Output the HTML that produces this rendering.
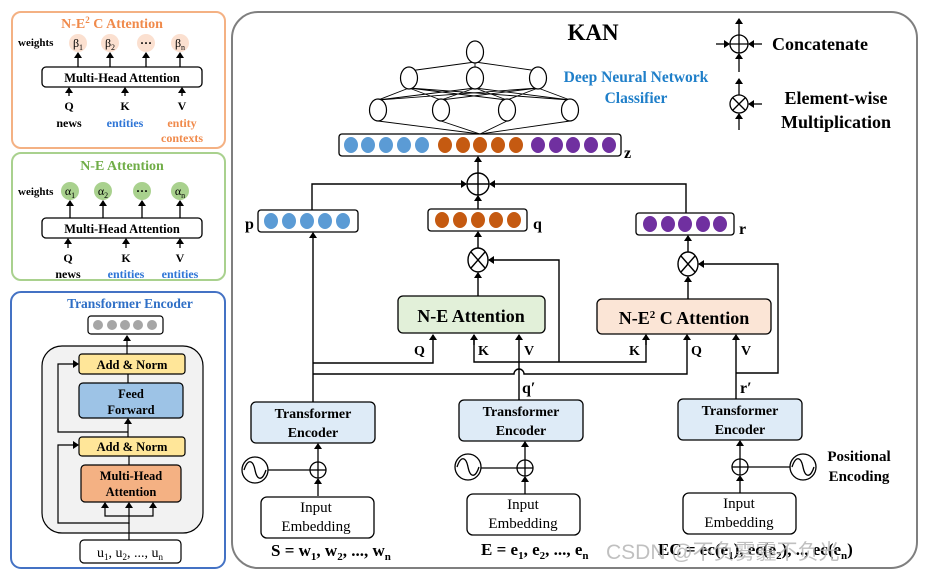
<!DOCTYPE html>
<html><head><meta charset="utf-8"><style>
html,body{margin:0;padding:0;background:#fff;}
svg{display:block;}
text{font-family:"Liberation Serif","Noto Serif CJK SC",serif;}
</style></head><body>
<svg width="925" height="575" viewBox="0 0 925 575" xmlns="http://www.w3.org/2000/svg">
<defs>
<marker id="a" markerWidth="6" markerHeight="8" refX="5" refY="4" orient="auto" markerUnits="userSpaceOnUse"><path d="M0,0 L6,4 L0,8 z" fill="#000"/></marker>
</defs>
<g stroke="#000" stroke-width="1.3" fill="none">
<rect x="12" y="12" width="213" height="136" rx="9" stroke="#f4b183" stroke-width="2"/>
<rect x="12" y="153" width="213" height="127" rx="9" stroke="#a9d18e" stroke-width="2"/>
<rect x="11" y="292" width="214" height="276" rx="10" stroke="#4472c4" stroke-width="2"/>
<rect x="232" y="12" width="685" height="556" rx="26" stroke="#7f7f7f" stroke-width="2"/>
</g>

<text x="112" y="28" font-size="14" font-weight="bold" fill="#f08a4b" text-anchor="middle">N-E<tspan font-size="9" dy="-5">2</tspan><tspan dy="5"> C Attention</tspan></text>
<text x="18" y="46" font-size="11" font-weight="bold">weights</text>
<g fill="#fbe0d0"><circle cx="78" cy="43" r="9"/><circle cx="110" cy="43" r="9"/><circle cx="146" cy="43" r="9"/><circle cx="180" cy="43" r="9"/></g>
<g font-size="12" text-anchor="middle"><text x="78" y="47">β<tspan font-size="8" dy="3">1</tspan></text><text x="110" y="47">β<tspan font-size="8" dy="3">2</tspan></text><text x="146" y="47" font-weight="bold">···</text><text x="180" y="47">β<tspan font-size="8" dy="3">n</tspan></text></g>
<rect x="42" y="67" width="160" height="20" rx="4" fill="#fff" stroke="#000" stroke-width="1.3"/>
<text x="122" y="82" font-size="12.5" font-weight="bold" text-anchor="middle">Multi-Head Attention</text>
<g stroke="#000" stroke-width="1.3" marker-end="url(#a)"><line x1="78" y1="67" x2="78" y2="53"/><line x1="110" y1="67" x2="110" y2="53"/><line x1="146" y1="67" x2="146" y2="53"/><line x1="180" y1="67" x2="180" y2="53"/>
<line x1="69" y1="96" x2="69" y2="88"/><line x1="125" y1="96" x2="125" y2="88"/><line x1="182" y1="96" x2="182" y2="88"/></g>
<g font-size="12" font-weight="bold" text-anchor="middle"><text x="69" y="110">Q</text><text x="125" y="110">K</text><text x="182" y="110">V</text>
<text x="69" y="127">news</text><text x="125" y="127" fill="#2e75d6">entities</text><text x="182" y="127" fill="#f08a4b">entity</text><text x="182" y="142" fill="#f08a4b">contexts</text></g>

<text x="122" y="170" font-size="14" font-weight="bold" fill="#70ad47" text-anchor="middle">N-E Attention</text>
<text x="18" y="195" font-size="11" font-weight="bold">weights</text>
<g fill="#a9d18e"><circle cx="70" cy="191" r="9"/><circle cx="103" cy="191" r="9"/><circle cx="142" cy="191" r="9"/><circle cx="180" cy="191" r="9"/></g>
<g font-size="12" text-anchor="middle"><text x="70" y="195">α<tspan font-size="8" dy="3">1</tspan></text><text x="103" y="195">α<tspan font-size="8" dy="3">2</tspan></text><text x="142" y="195" font-weight="bold">···</text><text x="180" y="195">α<tspan font-size="8" dy="3">n</tspan></text></g>
<rect x="42" y="218" width="160" height="20" rx="4" fill="#fff" stroke="#000" stroke-width="1.3"/>
<text x="122" y="233" font-size="12.5" font-weight="bold" text-anchor="middle">Multi-Head Attention</text>
<g stroke="#000" stroke-width="1.3" marker-end="url(#a)"><line x1="70" y1="218" x2="70" y2="201"/><line x1="103" y1="218" x2="103" y2="201"/><line x1="142" y1="218" x2="142" y2="201"/><line x1="180" y1="218" x2="180" y2="201"/>
<line x1="68" y1="248" x2="68" y2="239"/><line x1="126" y1="248" x2="126" y2="239"/><line x1="180" y1="248" x2="180" y2="239"/></g>
<g font-size="12" font-weight="bold" text-anchor="middle"><text x="68" y="262">Q</text><text x="126" y="262">K</text><text x="180" y="262">V</text>
<text x="68" y="278">news</text><text x="126" y="278" fill="#2e75d6">entities</text><text x="180" y="278" fill="#2e75d6">entities</text></g>

<text x="130" y="308" font-size="13.5" font-weight="bold" fill="#2f6fc6" text-anchor="middle">Transformer Encoder</text>
<rect x="88" y="316" width="75" height="18" rx="3" fill="#fff" stroke="#000" stroke-width="1.2"/>
<g fill="#a6a6a6"><circle cx="98" cy="325" r="5"/><circle cx="112" cy="325" r="5"/><circle cx="125" cy="325" r="5"/><circle cx="138" cy="325" r="5"/><circle cx="152" cy="325" r="5"/></g>
<rect x="42" y="346" width="161" height="187" rx="20" fill="#f2f2f2" stroke="#000" stroke-width="1.2"/>
<g stroke="#000" stroke-width="1.2" fill="none">
<line x1="127" y1="354" x2="127" y2="336" marker-end="url(#a)"/>
<line x1="128" y1="374" x2="128" y2="383"/>
<line x1="128" y1="437" x2="128" y2="419" marker-end="url(#a)"/>
<polyline points="128,432 58,432 58,364 78,364" marker-end="url(#a)"/>
<line x1="129" y1="456" x2="129" y2="465"/>
<polyline points="129,540 129,523 58,523 58,445 78,445" marker-end="url(#a)"/>
<line x1="129" y1="524" x2="129" y2="503" marker-end="url(#a)"/>
<polyline points="105,503 105,516 153,516 153,503"/>
<line x1="105" y1="508" x2="105" y2="503" marker-end="url(#a)"/>
<line x1="153" y1="508" x2="153" y2="503" marker-end="url(#a)"/>
</g>
<rect x="79" y="354" width="106" height="20" rx="3" fill="#ffe699" stroke="#000" stroke-width="1.2"/>
<text x="132" y="369" font-size="12.5" font-weight="bold" text-anchor="middle">Add &amp; Norm</text>
<rect x="79" y="383" width="104" height="35" rx="4" fill="#9dc3e6" stroke="#000" stroke-width="1.2"/>
<text x="131" y="398" font-size="12.5" font-weight="bold" text-anchor="middle">Feed</text>
<text x="131" y="414" font-size="12.5" font-weight="bold" text-anchor="middle">Forward</text>
<rect x="79" y="437" width="106" height="19" rx="3" fill="#ffe699" stroke="#000" stroke-width="1.2"/>
<text x="132" y="451" font-size="12.5" font-weight="bold" text-anchor="middle">Add &amp; Norm</text>
<rect x="81" y="465" width="100" height="37" rx="4" fill="#f4b183" stroke="#000" stroke-width="1.2"/>
<text x="131" y="480" font-size="12.5" font-weight="bold" text-anchor="middle">Multi-Head</text>
<text x="131" y="496" font-size="12.5" font-weight="bold" text-anchor="middle">Attention</text>
<rect x="80" y="540" width="101" height="23" rx="4" fill="#fff" stroke="#000" stroke-width="1.2"/>
<text x="130" y="557" font-size="14" text-anchor="middle">u<tspan font-size="9" dy="3">1</tspan><tspan dy="-3">, u</tspan><tspan font-size="9" dy="3">2</tspan><tspan dy="-3">, ..., u</tspan><tspan font-size="9" dy="3">n</tspan></text>

<text x="593" y="40" font-size="23" font-weight="bold" text-anchor="middle">KAN</text>
<g stroke="#000" stroke-width="1.3" fill="none">
<circle cx="739" cy="44" r="9"/><line x1="730" y1="44" x2="748" y2="44"/><line x1="739" y1="35" x2="739" y2="53"/>
<line x1="739" y1="35" x2="739" y2="19" marker-end="url(#a)"/>
<line x1="739" y1="72" x2="739" y2="54" marker-end="url(#a)"/>
<line x1="716" y1="44" x2="729" y2="44" marker-end="url(#a)"/>
<line x1="762" y1="44" x2="749" y2="44" marker-end="url(#a)"/>
<circle cx="739" cy="104" r="9"/><line x1="733" y1="98" x2="745" y2="110"/><line x1="745" y1="98" x2="733" y2="110"/>
<line x1="739" y1="95" x2="739" y2="79" marker-end="url(#a)"/>
<line x1="739" y1="130" x2="739" y2="114" marker-end="url(#a)"/>
<line x1="762" y1="104" x2="749" y2="104" marker-end="url(#a)"/>
</g>
<text x="772" y="50" font-size="18" font-weight="bold">Concatenate</text>
<text x="836" y="104" font-size="18" font-weight="bold" text-anchor="middle">Element-wise</text>
<text x="836" y="128" font-size="18" font-weight="bold" text-anchor="middle">Multiplication</text>

<g stroke="#000" stroke-width="0.9">
<line x1="475" y1="62" x2="409" y2="71"/><line x1="475" y1="62" x2="475" y2="68"/><line x1="475" y1="62" x2="538" y2="71"/>
<line x1="409" y1="88" x2="378" y2="100"/><line x1="409" y1="88" x2="441" y2="100"/><line x1="409" y1="88" x2="507" y2="100"/><line x1="409" y1="88" x2="570" y2="100"/>
<line x1="475" y1="88" x2="378" y2="100"/><line x1="475" y1="88" x2="441" y2="100"/><line x1="475" y1="88" x2="507" y2="100"/><line x1="475" y1="88" x2="570" y2="100"/>
<line x1="538" y1="88" x2="378" y2="100"/><line x1="538" y1="88" x2="441" y2="100"/><line x1="538" y1="88" x2="507" y2="100"/><line x1="538" y1="88" x2="570" y2="100"/>
<line x1="378" y1="121" x2="480" y2="134"/><line x1="441" y1="121" x2="480" y2="134"/><line x1="507" y1="121" x2="480" y2="134"/><line x1="570" y1="121" x2="480" y2="134"/>
</g>
<g fill="#fff" stroke="#000" stroke-width="1.2">
<ellipse cx="475" cy="52" rx="8.5" ry="11"/>
<ellipse cx="409" cy="78" rx="8.5" ry="11"/><ellipse cx="475" cy="78" rx="8.5" ry="11"/><ellipse cx="538" cy="78" rx="8.5" ry="11"/>
<ellipse cx="378" cy="110" rx="8.5" ry="11"/><ellipse cx="441" cy="110" rx="8.5" ry="11"/><ellipse cx="507" cy="110" rx="8.5" ry="11"/><ellipse cx="570" cy="110" rx="8.5" ry="11"/>
</g>
<text x="636" y="82" font-size="15.5" font-weight="bold" fill="#1f7fc9" text-anchor="middle">Deep Neural Network</text>
<text x="636" y="103" font-size="15.5" font-weight="bold" fill="#1f7fc9" text-anchor="middle">Classifier</text>

<rect x="339" y="134" width="282" height="22" rx="3" fill="#fff" stroke="#000" stroke-width="1.3"/>
<g fill="#5b9bd5"><ellipse cx="351" cy="145" rx="7" ry="8"/><ellipse cx="368" cy="145" rx="7" ry="8"/><ellipse cx="386" cy="145" rx="7" ry="8"/><ellipse cx="404" cy="145" rx="7" ry="8"/><ellipse cx="422" cy="145" rx="7" ry="8"/></g>
<g fill="#c55a11"><ellipse cx="445" cy="145" rx="7" ry="8"/><ellipse cx="463" cy="145" rx="7" ry="8"/><ellipse cx="480" cy="145" rx="7" ry="8"/><ellipse cx="498" cy="145" rx="7" ry="8"/><ellipse cx="516" cy="145" rx="7" ry="8"/></g>
<g fill="#7030a0"><ellipse cx="538" cy="145" rx="7" ry="8"/><ellipse cx="556" cy="145" rx="7" ry="8"/><ellipse cx="573" cy="145" rx="7" ry="8"/><ellipse cx="591" cy="145" rx="7" ry="8"/><ellipse cx="609" cy="145" rx="7" ry="8"/></g>
<text x="624" y="158" font-size="16" font-weight="bold">z</text>

<rect x="258" y="210" width="100" height="22" rx="3" fill="#fff" stroke="#000" stroke-width="1.3"/>
<g fill="#5b9bd5"><ellipse cx="271" cy="221" rx="7" ry="8"/><ellipse cx="289" cy="221" rx="7" ry="8"/><ellipse cx="307" cy="221" rx="7" ry="8"/><ellipse cx="325" cy="221" rx="7" ry="8"/><ellipse cx="343" cy="221" rx="7" ry="8"/></g>
<text x="245" y="229" font-size="16" font-weight="bold">p</text>
<rect x="428" y="209" width="99" height="22" rx="3" fill="#fff" stroke="#000" stroke-width="1.3"/>
<g fill="#c55a11"><ellipse cx="442" cy="220" rx="7" ry="8"/><ellipse cx="460" cy="220" rx="7" ry="8"/><ellipse cx="478" cy="220" rx="7" ry="8"/><ellipse cx="496" cy="220" rx="7" ry="8"/><ellipse cx="514" cy="220" rx="7" ry="8"/></g>
<text x="533" y="229" font-size="16" font-weight="bold">q</text>
<rect x="636" y="213" width="98" height="22" rx="3" fill="#fff" stroke="#000" stroke-width="1.3"/>
<g fill="#7030a0"><ellipse cx="650" cy="224" rx="7" ry="8"/><ellipse cx="668" cy="224" rx="7" ry="8"/><ellipse cx="685" cy="224" rx="7" ry="8"/><ellipse cx="703" cy="224" rx="7" ry="8"/><ellipse cx="720" cy="224" rx="7" ry="8"/></g>
<text x="739" y="234" font-size="16" font-weight="bold">r</text>

<g stroke="#000" stroke-width="1.4" fill="none">
<circle cx="478" cy="184" r="11"/><line x1="467" y1="184" x2="489" y2="184"/><line x1="478" y1="173" x2="478" y2="195"/>
<line x1="478" y1="173" x2="478" y2="157" marker-end="url(#a)"/>
<line x1="478" y1="209" x2="478" y2="196" marker-end="url(#a)"/>
<polyline points="312,210 312,184 466,184" marker-end="url(#a)"/>
<polyline points="686,213 686,184 490,184" marker-end="url(#a)"/>
<ellipse cx="478" cy="260" rx="10" ry="12"/><line x1="471" y1="252" x2="485" y2="268"/><line x1="485" y1="252" x2="471" y2="268"/>
<line x1="478" y1="248" x2="478" y2="232" marker-end="url(#a)"/>
<line x1="478" y1="296" x2="478" y2="273" marker-end="url(#a)"/>
<polyline points="559,362 559,260 489,260" marker-end="url(#a)"/>
<ellipse cx="688" cy="264" rx="10" ry="12"/><line x1="681" y1="256" x2="695" y2="272"/><line x1="695" y1="256" x2="681" y2="272"/>
<line x1="688" y1="252" x2="688" y2="236" marker-end="url(#a)"/>
<line x1="688" y1="299" x2="688" y2="277" marker-end="url(#a)"/>
<polyline points="736,373 778,373 778,264 699,264" marker-end="url(#a)"/>
<line x1="313" y1="402" x2="313" y2="233" marker-end="url(#a)"/>
<polyline points="313,363 433,363 433,335" marker-end="url(#a)"/>
<polyline points="474,335 474,362 646,362 646,335"/>
<line x1="474" y1="345" x2="474" y2="335" marker-end="url(#a)"/>
<line x1="646" y1="345" x2="646" y2="335" marker-end="url(#a)"/>
<path d="M313,374 L514,374 A5,5 0 0 1 524,374 L687,374 L687,335" marker-end="url(#a)"/>
<line x1="519" y1="400" x2="519" y2="335" marker-end="url(#a)"/>
<line x1="736" y1="399" x2="736" y2="335" marker-end="url(#a)"/>
</g>
<g font-size="14" font-weight="bold">
<text x="414" y="355">Q</text><text x="478" y="355">K</text><text x="524" y="355">V</text>
<text x="629" y="355">K</text><text x="691" y="355">Q</text><text x="741" y="355">V</text>
<text x="522" y="393" font-size="16">q′</text><text x="740" y="393" font-size="16">r′</text>
</g>

<rect x="398" y="296" width="147" height="37" rx="5" fill="#e2f0d9" stroke="#000" stroke-width="1.3"/>
<text x="471" y="322" font-size="18" font-weight="bold" text-anchor="middle">N-E Attention</text>
<rect x="597" y="299" width="174" height="35" rx="5" fill="#fbe5d6" stroke="#000" stroke-width="1.3"/>
<text x="684" y="324" font-size="18" font-weight="bold" text-anchor="middle">N-E<tspan font-size="11" dy="-6">2</tspan><tspan dy="6"> C Attention</tspan></text>

<g fill="#deebf7" stroke="#000" stroke-width="1.3">
<rect x="251" y="402" width="124" height="41" rx="5"/>
<rect x="459" y="400" width="124" height="41" rx="5"/>
<rect x="678" y="399" width="124" height="41" rx="5"/>
</g>
<g font-size="14" font-weight="bold" text-anchor="middle">
<text x="313" y="418">Transformer</text><text x="313" y="437">Encoder</text>
<text x="521" y="416">Transformer</text><text x="521" y="435">Encoder</text>
<text x="740" y="415">Transformer</text><text x="740" y="434">Encoder</text>
</g>

<g stroke="#000" stroke-width="1.3" fill="none">
<circle cx="318" cy="470" r="8"/><line x1="310" y1="470" x2="326" y2="470"/><line x1="318" y1="462" x2="318" y2="478"/>
<line x1="318" y1="462" x2="318" y2="444" marker-end="url(#a)"/>
<line x1="318" y1="496" x2="318" y2="479" marker-end="url(#a)"/>
<circle cx="255" cy="470" r="13"/><path d="M244,470 C248,458 253,460 255,470 C257,480 262,482 266,470"/><line x1="268" y1="470" x2="310" y2="470"/>
<circle cx="525" cy="468" r="8"/><line x1="517" y1="468" x2="533" y2="468"/><line x1="525" y1="460" x2="525" y2="476"/>
<line x1="525" y1="460" x2="525" y2="442" marker-end="url(#a)"/>
<line x1="525" y1="494" x2="525" y2="477" marker-end="url(#a)"/>
<circle cx="468" cy="467" r="13"/><path d="M457,467 C461,455 466,457 468,467 C470,477 475,479 479,467"/><line x1="481" y1="468" x2="517" y2="468"/>
<circle cx="740" cy="467" r="8"/><line x1="732" y1="467" x2="748" y2="467"/><line x1="740" y1="459" x2="740" y2="475"/>
<line x1="740" y1="459" x2="740" y2="441" marker-end="url(#a)"/>
<line x1="740" y1="493" x2="740" y2="476" marker-end="url(#a)"/>
<circle cx="803" cy="467" r="13"/><path d="M792,467 C796,455 801,457 803,467 C805,477 810,479 814,467"/><line x1="748" y1="467" x2="790" y2="467"/>
</g>
<text x="859" y="461" font-size="15" font-weight="bold" text-anchor="middle">Positional</text>
<text x="859" y="481" font-size="15" font-weight="bold" text-anchor="middle">Encoding</text>

<g fill="#fff" stroke="#000" stroke-width="1.3">
<rect x="261" y="497" width="113" height="41" rx="6"/>
<rect x="467" y="494" width="113" height="41" rx="6"/>
<rect x="683" y="493" width="113" height="41" rx="6"/>
</g>
<g font-size="15" text-anchor="middle">
<text x="316" y="512">Input</text><text x="316" y="531">Embedding</text>
<text x="523" y="509">Input</text><text x="523" y="528">Embedding</text>
<text x="739" y="508">Input</text><text x="739" y="527">Embedding</text>
</g>

<g font-size="17" font-weight="bold">
<text x="271" y="556">S = w<tspan font-size="11" dy="4">1</tspan><tspan dy="-4">, w</tspan><tspan font-size="11" dy="4">2</tspan><tspan dy="-4">, ..., w</tspan><tspan font-size="11" dy="4">n</tspan></text>
<text x="481" y="555">E = e<tspan font-size="11" dy="4">1</tspan><tspan dy="-4">, e</tspan><tspan font-size="11" dy="4">2</tspan><tspan dy="-4">, ..., e</tspan><tspan font-size="11" dy="4">n</tspan></text>
<text x="658" y="555">EC = ec(e<tspan font-size="11" dy="4">1</tspan><tspan dy="-4">), ec(e</tspan><tspan font-size="11" dy="4">2</tspan><tspan dy="-4">), .., ec(e</tspan><tspan font-size="11" dy="4">n</tspan><tspan dy="-4">)</tspan></text>
</g>
<text x="606" y="559" font-size="21" fill="#b0b0b0" fill-opacity="0.8" style="font-family:'Liberation Sans','Noto Sans CJK SC',sans-serif">CSDN @不负雾霾不负光</text>
</svg>
</body></html>
